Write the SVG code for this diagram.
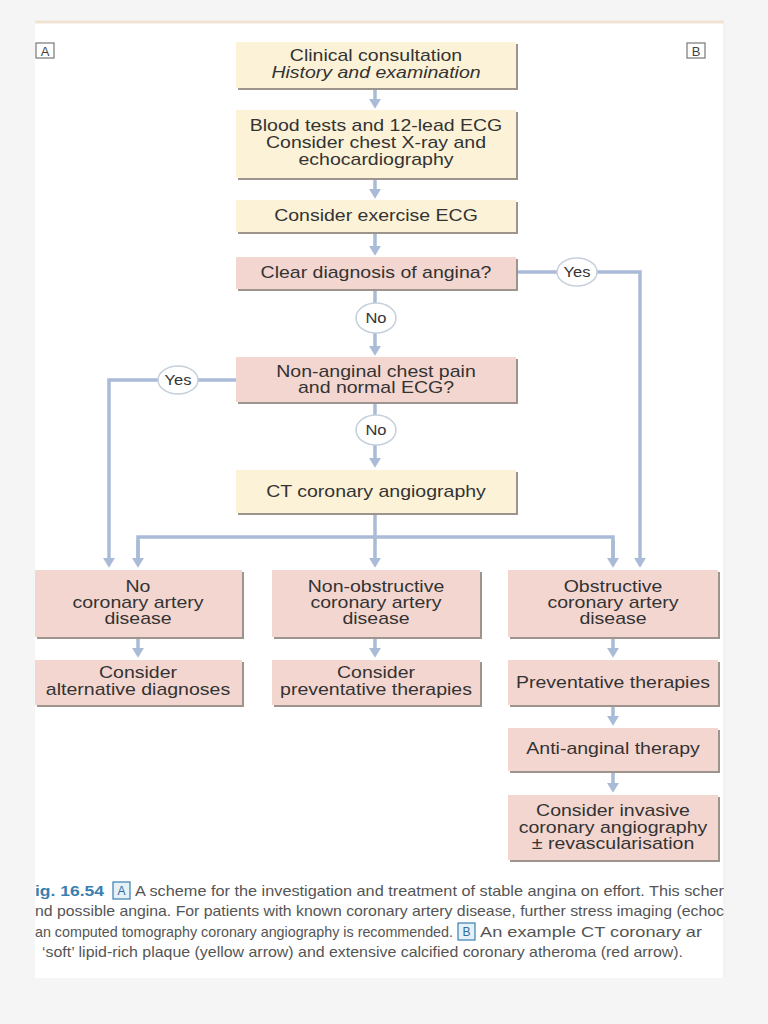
<svg xmlns="http://www.w3.org/2000/svg" width="768" height="1024" viewBox="0 0 768 1024">
<defs>
<style>
.bg{fill:#f5f5f5}
.panel{fill:#ffffff}
.sh{fill:#9d958d}
.y{fill:#fcf2d8}
.p{fill:#f3d6d0}
.t{font-family:"Liberation Sans",Arial,sans-serif;font-size:16px;fill:#333333;text-anchor:middle}
.i{font-style:italic}
.c{stroke:#a9bbd6;stroke-width:3.5;fill:none}
.lab{fill:#ffffff;stroke:#c6d0dc;stroke-width:1.5}
.lt{font-family:"Liberation Sans",Arial,sans-serif;font-size:15px;fill:#333333;text-anchor:middle}
.cap{font-family:"Liberation Sans",Arial,sans-serif;font-size:14.5px;fill:#555555}
.fig{font-family:"Liberation Sans",Arial,sans-serif;font-size:15.5px;font-weight:bold;fill:#3a7fb0}
.cb{fill:#e6f0f7;stroke:#3a7fb0;stroke-width:1.2}
.cbt{font-family:"Liberation Sans",Arial,sans-serif;font-size:12px;fill:#2f6f9e;text-anchor:middle}
.ab{fill:#ffffff;stroke:#777777;stroke-width:1.2}
.abt{font-family:"Liberation Sans",Arial,sans-serif;font-size:13px;fill:#444444;text-anchor:middle}
</style>
<marker id="ah" markerUnits="userSpaceOnUse" markerWidth="10" markerHeight="12" viewBox="0 0 9 11" refX="1" refY="5.5" orient="auto">
<path d="M0,0 L9,5.5 L0,11 z" fill="#a9bbd6"/>
</marker>
<clipPath id="pc"><rect x="35" y="22" width="689" height="956"/></clipPath>
</defs>
<rect class="bg" x="0" y="0" width="768" height="1024"/>
<rect class="panel" x="35" y="22" width="689" height="956"/>
<line x1="35" y1="22" x2="724" y2="22" stroke="#f1e3d4" stroke-width="3"/>
<line x1="724" y1="22" x2="724" y2="978" stroke="#ececec" stroke-width="1"/>

<g id="labelA"><rect class="ab" x="36" y="43" width="18" height="15"/><text class="abt" x="45" y="55.5">A</text></g>
<g id="labelB"><rect class="ab" x="687" y="43" width="18" height="15"/><text class="abt" x="696" y="55.5">B</text></g>

<g id="connectors">
<path class="c" d="M375,88 V100" marker-end="url(#ah)"/>
<path class="c" d="M375,178 V190" marker-end="url(#ah)"/>
<path class="c" d="M375,232 V247" marker-end="url(#ah)"/>
<path class="c" d="M375,289 V347" marker-end="url(#ah)"/>
<path class="c" d="M516,272 H640 V559" marker-end="url(#ah)"/>
<path class="c" d="M236,380 H109 V559" marker-end="url(#ah)"/>
<path class="c" d="M375,402 V459" marker-end="url(#ah)"/>
<path class="c" d="M375,513 V559" marker-end="url(#ah)"/>
<path class="c" d="M138,559 V537 H613 V559"/>
<path class="c" d="M138,540 V559" marker-end="url(#ah)"/>
<path class="c" d="M613,540 V559" marker-end="url(#ah)"/>
<path class="c" d="M138,637 V649" marker-end="url(#ah)"/>
<path class="c" d="M375,637 V649" marker-end="url(#ah)"/>
<path class="c" d="M613,637 V649" marker-end="url(#ah)"/>
<path class="c" d="M613,705 V717" marker-end="url(#ah)"/>
<path class="c" d="M613,771 V784" marker-end="url(#ah)"/>
</g>

<g id="yes1"><ellipse class="lab" cx="577" cy="272" rx="20" ry="14"/><text class="lt" transform="translate(577 277) scale(1.1 1)">Yes</text></g>
<g id="no1"><ellipse class="lab" cx="376" cy="318" rx="20" ry="15"/><text class="lt" transform="translate(376 323) scale(1.1 1)">No</text></g>
<g id="yes2"><ellipse class="lab" cx="178" cy="380" rx="20" ry="14"/><text class="lt" transform="translate(178 385) scale(1.1 1)">Yes</text></g>
<g id="no2"><ellipse class="lab" cx="376" cy="430" rx="20" ry="15"/><text class="lt" transform="translate(376 435) scale(1.1 1)">No</text></g>

<g id="n1">
<rect class="sh" x="238" y="44" width="280" height="46"/><rect class="y" x="236" y="42" width="280" height="46"/>
<text class="t" transform="translate(376 61) scale(1.22 1)">Clinical consultation</text>
<text class="t i" transform="translate(376 78) scale(1.22 1)">History and examination</text>
</g>
<g id="n2">
<rect class="sh" x="238" y="112" width="280" height="68"/><rect class="y" x="236" y="110" width="280" height="68"/>
<text class="t" transform="translate(376 131) scale(1.22 1)">Blood tests and 12-lead ECG</text>
<text class="t" transform="translate(376 148) scale(1.22 1)">Consider chest X-ray and</text>
<text class="t" transform="translate(376 165) scale(1.22 1)">echocardiography</text>
</g>
<g id="n3">
<rect class="sh" x="238" y="202" width="280" height="32"/><rect class="y" x="236" y="200" width="280" height="32"/>
<text class="t" transform="translate(376 221) scale(1.22 1)">Consider exercise ECG</text>
</g>
<g id="n4">
<rect class="sh" x="238" y="259" width="280" height="32"/><rect class="p" x="236" y="257" width="280" height="32"/>
<text class="t" transform="translate(376 278) scale(1.22 1)">Clear diagnosis of angina?</text>
</g>
<g id="n5">
<rect class="sh" x="238" y="359" width="280" height="45"/><rect class="p" x="236" y="357" width="280" height="45"/>
<text class="t" transform="translate(376 377) scale(1.22 1)">Non-anginal chest pain</text>
<text class="t" transform="translate(376 393) scale(1.22 1)">and normal ECG?</text>
</g>
<g id="n6">
<rect class="sh" x="238" y="472" width="280" height="43"/><rect class="y" x="236" y="470" width="280" height="43"/>
<text class="t" transform="translate(376 497) scale(1.22 1)">CT coronary angiography</text>
</g>
<g id="n7">
<rect class="sh" x="37" y="572" width="207" height="67"/><rect class="p" x="35" y="570" width="207" height="67"/>
<text class="t" transform="translate(138 592) scale(1.22 1)">No</text>
<text class="t" transform="translate(138 608) scale(1.22 1)">coronary artery</text>
<text class="t" transform="translate(138 624) scale(1.22 1)">disease</text>
</g>
<g id="n8">
<rect class="sh" x="274" y="572" width="208" height="67"/><rect class="p" x="272" y="570" width="208" height="67"/>
<text class="t" transform="translate(376 592) scale(1.22 1)">Non-obstructive</text>
<text class="t" transform="translate(376 608) scale(1.22 1)">coronary artery</text>
<text class="t" transform="translate(376 624) scale(1.22 1)">disease</text>
</g>
<g id="n9">
<rect class="sh" x="510" y="572" width="210" height="67"/><rect class="p" x="508" y="570" width="210" height="67"/>
<text class="t" transform="translate(613 592) scale(1.22 1)">Obstructive</text>
<text class="t" transform="translate(613 608) scale(1.22 1)">coronary artery</text>
<text class="t" transform="translate(613 624) scale(1.22 1)">disease</text>
</g>
<g id="n10">
<rect class="sh" x="37" y="662" width="207" height="45"/><rect class="p" x="35" y="660" width="207" height="45"/>
<text class="t" transform="translate(138 678) scale(1.22 1)">Consider</text>
<text class="t" transform="translate(138 695) scale(1.22 1)">alternative diagnoses</text>
</g>
<g id="n11">
<rect class="sh" x="274" y="662" width="208" height="45"/><rect class="p" x="272" y="660" width="208" height="45"/>
<text class="t" transform="translate(376 678) scale(1.22 1)">Consider</text>
<text class="t" transform="translate(376 695) scale(1.22 1)">preventative therapies</text>
</g>
<g id="n12">
<rect class="sh" x="510" y="662" width="210" height="45"/><rect class="p" x="508" y="660" width="210" height="45"/>
<text class="t" transform="translate(613 688) scale(1.22 1)">Preventative therapies</text>
</g>
<g id="n13">
<rect class="sh" x="510" y="730" width="210" height="43"/><rect class="p" x="508" y="728" width="210" height="43"/>
<text class="t" transform="translate(613 754) scale(1.22 1)">Anti-anginal therapy</text>
</g>
<g id="n14">
<rect class="sh" x="510" y="797" width="210" height="65"/><rect class="p" x="508" y="795" width="210" height="65"/>
<text class="t" transform="translate(613 816) scale(1.22 1)">Consider invasive</text>
<text class="t" transform="translate(613 833) scale(1.22 1)">coronary angiography</text>
<text class="t" transform="translate(613 849) scale(1.22 1)">± revascularisation</text>
</g>

<g id="caption" clip-path="url(#pc)">
<text class="fig" x="35" y="896" textLength="69" lengthAdjust="spacingAndGlyphs">ig. 16.54</text>
<rect class="cb" x="113" y="882" width="17" height="17"/>
<text class="cbt" x="121.5" y="895">A</text>
<text class="cap" x="135" y="896" textLength="589" lengthAdjust="spacingAndGlyphs">A scheme for the investigation and treatment of stable angina on effort. This scher</text>
<text class="cap" x="35" y="916" textLength="689" lengthAdjust="spacingAndGlyphs">nd possible angina. For patients with known coronary artery disease, further stress imaging (echoc</text>
<text class="cap" x="35" y="937" textLength="418" lengthAdjust="spacingAndGlyphs">an computed tomography coronary angiography is recommended.</text>
<rect class="cb" x="458" y="923" width="17" height="17"/>
<text class="cbt" x="466.5" y="936">B</text>
<text class="cap" x="480" y="937" textLength="222" lengthAdjust="spacingAndGlyphs">An example CT coronary ar</text>
<text class="cap" x="42" y="957" textLength="641" lengthAdjust="spacingAndGlyphs">‘soft’ lipid-rich plaque (yellow arrow) and extensive calcified coronary atheroma (red arrow).</text>
</g>
</svg>
